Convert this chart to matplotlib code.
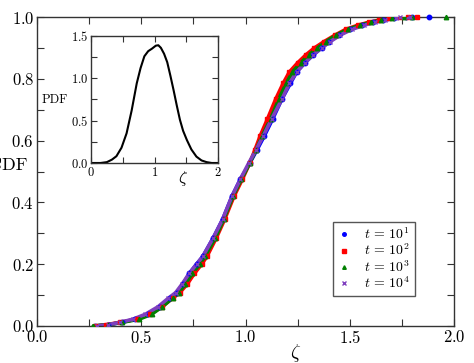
import matplotlib
matplotlib.use('Agg')
import matplotlib.pyplot as plt
from matplotlib.ticker import MultipleLocator

plt.rcParams['font.family'] = 'serif'
plt.rcParams['font.serif'] = ['cmr10']
plt.rcParams['mathtext.fontset'] = 'cm'
plt.rcParams['axes.formatter.use_mathtext'] = True

# CDF levels shared by all four runs
cdf = [0.000, 0.004, 0.012, 0.022, 0.038, 0.062, 0.090, 0.108, 0.135, 0.170,
       0.200, 0.225, 0.285, 0.345, 0.420, 0.475, 0.527, 0.570, 0.615, 0.670,
       0.735, 0.785, 0.822, 0.852, 0.878, 0.900, 0.920, 0.942, 0.960, 0.974,
       0.983, 0.990, 0.996, 1.000]

zeta_t1 = [0.28, 0.34, 0.41, 0.47, 0.53, 0.59, 0.64, 0.67, 0.70, 0.73,
           0.765, 0.795, 0.845, 0.89, 0.935, 0.975, 1.02, 1.055, 1.09, 1.13,
           1.175, 1.215, 1.245, 1.285, 1.325, 1.365, 1.40, 1.45, 1.50, 1.56,
           1.61, 1.66, 1.71, 1.77]
zeta_t2 = [0.28, 0.33, 0.40, 0.48, 0.54, 0.60, 0.65, 0.685, 0.72, 0.755,
           0.79, 0.815, 0.86, 0.90, 0.945, 0.985, 1.02, 1.045, 1.07, 1.105,
           1.145, 1.18, 1.21, 1.25, 1.29, 1.33, 1.375, 1.43, 1.48, 1.54,
           1.59, 1.64, 1.69, 1.74]
zeta_t3 = [0.27, 0.34, 0.41, 0.49, 0.55, 0.60, 0.65, 0.68, 0.71, 0.745,
           0.78, 0.805, 0.855, 0.895, 0.94, 0.98, 1.02, 1.05, 1.08, 1.12,
           1.16, 1.195, 1.225, 1.265, 1.305, 1.345, 1.385, 1.435, 1.49, 1.55,
           1.60, 1.65, 1.70, 1.76]
zeta_t4 = [0.29, 0.34, 0.40, 0.46, 0.52, 0.58, 0.63, 0.665, 0.695, 0.73,
           0.765, 0.795, 0.845, 0.89, 0.935, 0.975, 1.015, 1.05, 1.085, 1.125,
           1.175, 1.21, 1.245, 1.285, 1.325, 1.365, 1.405, 1.455, 1.51, 1.57,
           1.62, 1.67, 1.72, 1.78]

# isolated largest values at CDF = 1
tail_t1 = [1.80, 1.88]
tail_t2 = [1.78, 1.82]
tail_t3 = [1.80, 1.96]
tail_t4 = [1.74, 1.79]

labels = [r'$t\, =\, 10^1$', r'$t\, =\, 10^2$', r'$t\, =\, 10^3$', r'$t\, =\, 10^4$']
colors = ['#0000ff', '#ff0000', '#008000', '#7f3fbf']
markers = ['o', 's', '^', 'x']

# inset PDF
pdf_zeta = [0.0, 0.15, 0.25, 0.33, 0.40, 0.48, 0.56, 0.64, 0.72, 0.78,
            0.84, 0.90, 0.96, 1.02, 1.06, 1.10, 1.15, 1.20, 1.25, 1.30,
            1.35, 1.40, 1.45, 1.51, 1.58, 1.66, 1.74, 1.82, 1.90, 2.0]
pdf_vals = [0.0, 0.0, 0.01, 0.04, 0.08, 0.18, 0.35, 0.62, 0.94, 1.12,
            1.26, 1.32, 1.35, 1.385, 1.39, 1.36, 1.29, 1.19, 1.03, 0.86,
            0.68, 0.51, 0.38, 0.27, 0.16, 0.075, 0.03, 0.01, 0.0, 0.0]

spine_col = '#333333'

fig = plt.figure(figsize=(4.74, 3.63), dpi=100)
ax = fig.add_axes([0.078, 0.102, 0.880, 0.851])

series = [(zeta_t1, tail_t1), (zeta_t2, tail_t2), (zeta_t3, tail_t3), (zeta_t4, tail_t4)]
for (z, tail), lab, c, m in zip(series, labels, colors, markers):
    ax.plot(z, cdf, color=c, lw=2.6, solid_capstyle='round', zorder=2)
    ax.plot(z, cdf, ls='none', marker=m, ms=3.2, color=c, mec=c, mew=1.0, zorder=3)
    ax.plot(tail, [1.0] * len(tail), ls='none', marker=m, ms=3.2, color=c,
            mec=c, mew=1.0, zorder=3, clip_on=False, label=lab)

ax.set_xlim(0, 2)
ax.set_ylim(0, 1)
ax.xaxis.set_major_locator(MultipleLocator(0.5))
ax.xaxis.set_minor_locator(MultipleLocator(0.25))
ax.yaxis.set_major_locator(MultipleLocator(0.2))
ax.yaxis.set_minor_locator(MultipleLocator(0.1))
ax.tick_params(which='both', direction='in', top=True, right=True, length=5,
               width=0.8, color=spine_col, labelsize=12, pad=2)
for s in ax.spines.values():
    s.set_color(spine_col)
    s.set_linewidth(1.0)

ax.set_xlabel(r'$\zeta$', fontsize=14)
ax.xaxis.set_label_coords(0.62, -0.052)
fig.text(28 / 474, 0.545, 'CDF', ha='right', va='center', fontsize=13)

leg = ax.legend(loc='lower left', bbox_to_anchor=(0.692, 0.075), fontsize=10,
                numpoints=1, handlelength=1.0, handletextpad=0.9,
                borderpad=0.35, labelspacing=0.05, fancybox=False,
                framealpha=1, edgecolor='#555555', markerscale=0.8)
leg.get_frame().set_linewidth(1.0)

ins = fig.add_axes([0.192, 0.551, 0.268, 0.350])
ins.plot(pdf_zeta, pdf_vals, color='black', lw=1.5)
ins.set_xlim(0, 2)
ins.set_ylim(0, 1.5)
ins.xaxis.set_major_locator(MultipleLocator(1))
ins.xaxis.set_minor_locator(MultipleLocator(0.5))
ins.yaxis.set_major_locator(MultipleLocator(0.5))
ins.yaxis.set_minor_locator(MultipleLocator(0.25))
ins.tick_params(which='both', direction='in', top=True, right=True, length=4,
                width=0.8, color=spine_col, labelsize=9, pad=2)
for s in ins.spines.values():
    s.set_color(spine_col)
    s.set_linewidth(1.0)
ins.text(0.72, -0.12, r'$\zeta$', transform=ins.transAxes, fontsize=12,
         ha='center', va='center')
ins.text(-0.39, 0.5, 'PDF', transform=ins.transAxes, fontsize=9,
         ha='left', va='center')

fig.savefig('out.png', dpi=100)
